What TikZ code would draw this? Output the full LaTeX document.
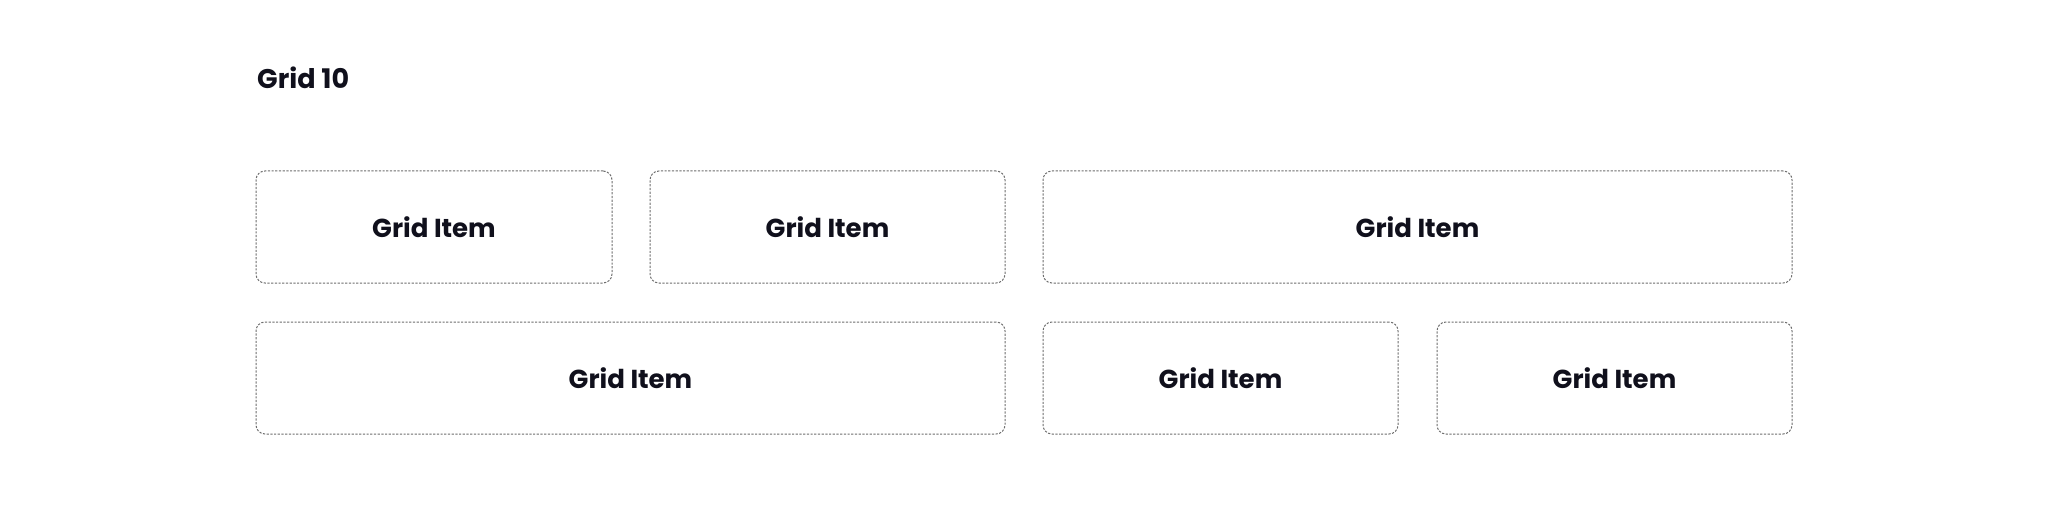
\documentclass[tikz,border=0pt]{standalone}
\usepackage{fontspec}
\setmainfont{Poppins}
\definecolor{ink}{HTML}{10101C}
\definecolor{dash}{HTML}{6E6E6E}
\begin{document}
\begin{tikzpicture}[x=1pt,y=-1pt,
  cell/.style={draw=dash, line width=1pt, dash pattern=on 2.2pt off 1.5pt, rounded corners=9pt,
    minimum height=112pt, inner sep=0pt, text=ink, font=\fontsize{26}{26}\selectfont\bfseries},
  title/.style={anchor=base west, inner sep=0pt, text=ink, font=\fontsize{27}{27}\selectfont\bfseries}]
\useasboundingbox[fill=white] (0,0) rectangle (2048,513);
\node[title] (t) at (257,88.5) {Grid 10};
\node[cell, minimum width=356pt] (a) at (434,227) {Grid Item};
\node[cell, minimum width=355pt] (b) at (827.5,227) {Grid Item};
\node[cell, minimum width=749pt] (c) at (1417.5,227) {Grid Item};
\node[cell, minimum width=749pt] (d) at (630.5,378) {Grid Item};
\node[cell, minimum width=355pt] (e) at (1220.5,378) {Grid Item};
\node[cell, minimum width=355pt] (f) at (1614.5,378) {Grid Item};
\end{tikzpicture}
\end{document}
